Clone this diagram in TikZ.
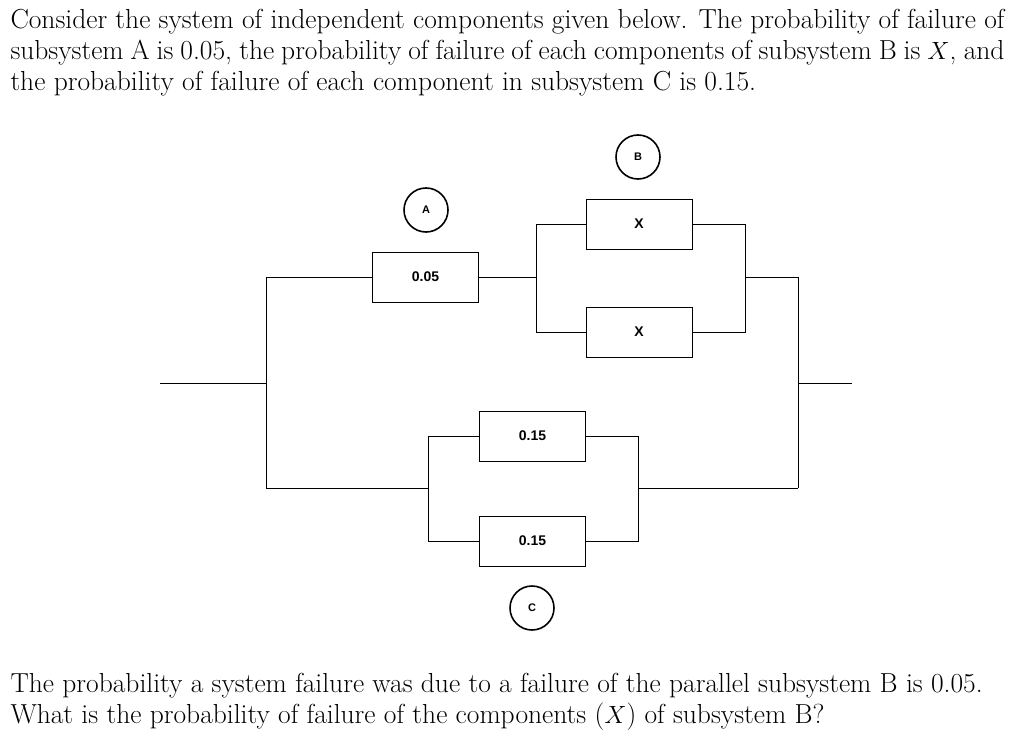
\documentclass[tikz,border=0pt]{standalone}
\usepackage{fontspec}
\newfontfamily\arialf{Liberation Sans}
\begin{document}
\begin{tikzpicture}[x=1pt,y=-1pt,line width=1pt,
  blk/.style={draw,minimum width=106pt,minimum height=50pt,inner sep=0pt,font=\arialf\bfseries\fontsize{14}{16}\selectfont},
  lbl/.style={draw,circle,minimum size=44pt,inner sep=0pt,line width=1.6pt,font=\arialf\bfseries\fontsize{11}{13}\selectfont},
  para/.style={anchor=north west,text width=994pt,align=justify,inner sep=0pt,font=\fontsize{27.5}{31}\selectfont}]
\useasboundingbox (0,0) rectangle (1024,741);
\node[para] (top) at (10,9) {Consider the system of independent components given below. The probability of failure of\linebreak subsystem A is 0.05, the probability of failure of each components of subsystem B is $X$, and\linebreak the probability of failure of each component in subsystem C is 0.15.};
\node[para] (bot) at (10,673) {The probability a system failure was due to a failure of the parallel subsystem B is 0.05.\\What is the probability of failure of the components ($X$) of subsystem B?};
\node[blk] (a) at (425.5,277) {0.05};
\node[blk] (b1) at (639,224) {X};
\node[blk] (b2) at (639,332) {X};
\node[blk] (c1) at (532.5,436) {0.15};
\node[blk] (c2) at (532.5,541) {0.15};
\node[lbl] (la) at (426,210) {A};
\node[lbl] (lb) at (638,157) {B};
\node[lbl] (lc) at (532,608) {C};
\coordinate (in) at (160,383);
\coordinate (out) at (852,383);
\draw (in) -- (266,383);
\draw (266,277) -- (266,488);
\draw (266,277) -- (a.west);
\draw (a.east) -- (536,277);
\draw (536,224) -- (536,332);
\draw (536,224) -- (b1.west);
\draw (536,332) -- (b2.west);
\draw (b1.east) -- (745,224) -- (745,332) -- (b2.east);
\draw (745,277) -- (798,277) -- (798,488);
\draw (798,383) -- (out);
\draw (266,488) -- (428,488);
\draw (428,436) -- (428,541);
\draw (428,436) -- (c1.west);
\draw (428,541) -- (c2.west);
\draw (c1.east) -- (638,436) -- (638,541) -- (c2.east);
\draw (638,488) -- (798,488);
\end{tikzpicture}
\end{document}
